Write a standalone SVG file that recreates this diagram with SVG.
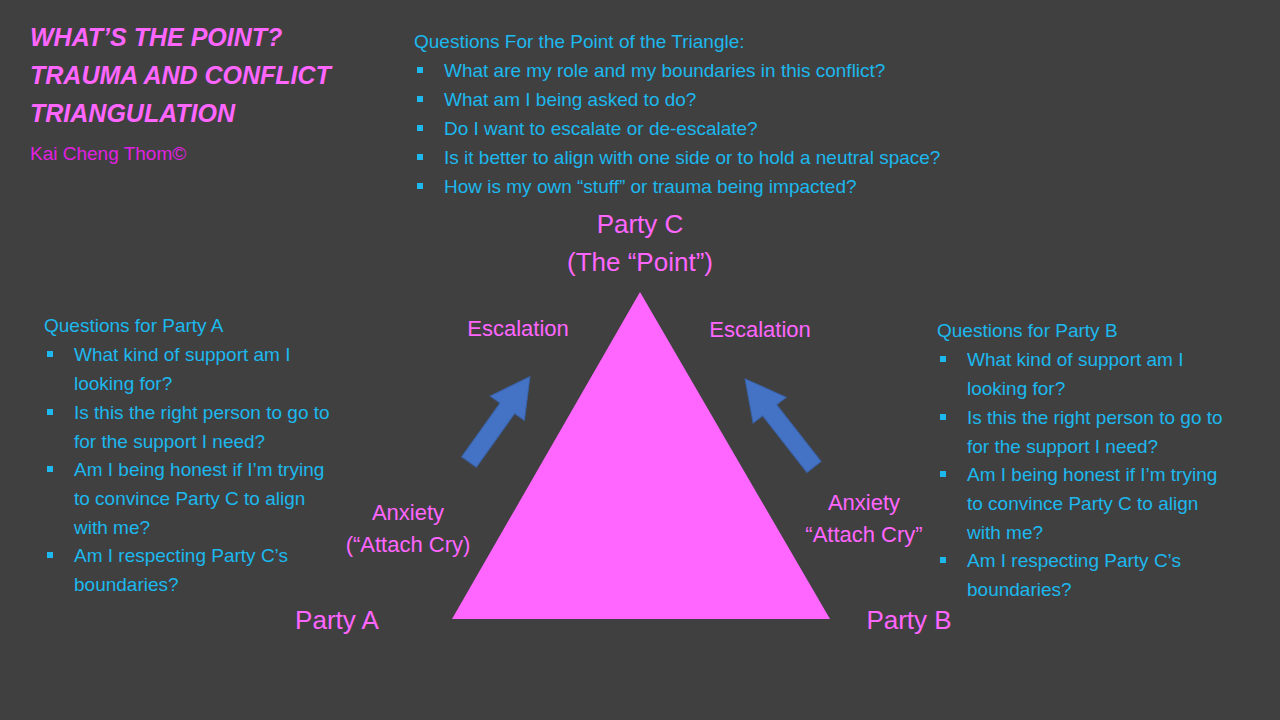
<svg xmlns="http://www.w3.org/2000/svg" width="1280" height="720" viewBox="0 0 1280 720">
<defs>
<style>
text{font-family:"Liberation Sans",Arial,sans-serif}
.t{fill:#ff66ff;font-size:25px;font-weight:bold;font-style:italic}
.c{fill:#1cb8ee;font-size:19px}
.p{fill:#ff66ff;font-size:22px}
.pl{fill:#ff66ff;font-size:26px}
.b{fill:#1cb8ee}
.ar{fill:#4472c4;stroke:#3a62a8;stroke-width:1}
</style>
<g id="bul"><rect x="-3" y="-3" width="6" height="6"/></g>
</defs>
<rect width="1280" height="720" fill="#404040"/>
<g id="title">
<text class="t" x="30" y="46">WHAT’S THE POINT?</text>
<text class="t" x="30" y="84">TRAUMA AND CONFLICT</text>
<text class="t" x="30" y="122">TRIANGULATION</text>
<text x="30" y="160" fill="#e020e0" font-size="19">Kai Cheng Thom©</text>
</g>
<g id="questions-c" class="c">
<text x="414" y="48">Questions For the Point of the Triangle:</text>
<g class="b"><use href="#bul" x="420" y="70"/><use href="#bul" x="420" y="99"/><use href="#bul" x="420" y="128"/><use href="#bul" x="420" y="157"/><use href="#bul" x="420" y="186"/></g>
<text x="444" y="77">What are my role and my boundaries in this conflict?</text>
<text x="444" y="106">What am I being asked to do?</text>
<text x="444" y="135">Do I want to escalate or de-escalate?</text>
<text x="444" y="164">Is it better to align with one side or to hold a neutral space?</text>
<text x="444" y="193">How is my own “stuff” or trauma being impacted?</text>
</g>
<g id="questions-a" class="c">
<text x="44" y="332">Questions for Party A</text>
<g class="b"><use href="#bul" x="50" y="354"/><use href="#bul" x="50" y="412"/><use href="#bul" x="50" y="469"/><use href="#bul" x="50" y="555"/></g>
<text x="74" y="361">What kind of support am I</text>
<text x="74" y="390">looking for?</text>
<text x="74" y="419">Is this the right person to go to</text>
<text x="74" y="448">for the support I need?</text>
<text x="74" y="476">Am I being honest if I’m trying</text>
<text x="74" y="505">to convince Party C to align</text>
<text x="74" y="534">with me?</text>
<text x="74" y="562">Am I respecting Party C’s</text>
<text x="74" y="591">boundaries?</text>
</g>
<g id="questions-b" class="c">
<text x="937" y="337">Questions for Party B</text>
<g class="b"><use href="#bul" x="943" y="359"/><use href="#bul" x="943" y="417"/><use href="#bul" x="943" y="474"/><use href="#bul" x="943" y="560"/></g>
<text x="967" y="366">What kind of support am I</text>
<text x="967" y="395">looking for?</text>
<text x="967" y="424">Is this the right person to go to</text>
<text x="967" y="453">for the support I need?</text>
<text x="967" y="481">Am I being honest if I’m trying</text>
<text x="967" y="510">to convince Party C to align</text>
<text x="967" y="539">with me?</text>
<text x="967" y="567">Am I respecting Party C’s</text>
<text x="967" y="596">boundaries?</text>
</g>
<g id="triangle"><polygon points="640,292 452,619 830,619" fill="#ff66ff"/></g>
<g id="party-c" class="pl" text-anchor="middle">
<text x="640" y="233">Party C</text>
<text x="640" y="271">(The “Point”)</text>
</g>
<g id="party-a"><text class="pl" x="337" y="629" text-anchor="middle">Party A</text></g>
<g id="party-b"><text class="pl" x="909" y="629" text-anchor="middle">Party B</text></g>
<g id="labels" class="p" text-anchor="middle">
<text x="518" y="336">Escalation</text>
<text x="760" y="337">Escalation</text>
<text x="408" y="520">Anxiety</text>
<text x="408" y="552">(“Attach Cry)</text>
<text x="864" y="510">Anxiety</text>
<text x="864" y="542">“Attach Cry”</text>
</g>
<g id="connectors">
<polygon class="ar" transform="translate(469,462) rotate(-54.5)" points="0,-9 66,-9 66,-21 105,0 66,21 66,9 0,9"/>
<polygon class="ar" transform="translate(814,467) rotate(-128)" points="0,-9 72,-9 72,-21 112,0 72,21 72,9 0,9"/>
</g>
</svg>
